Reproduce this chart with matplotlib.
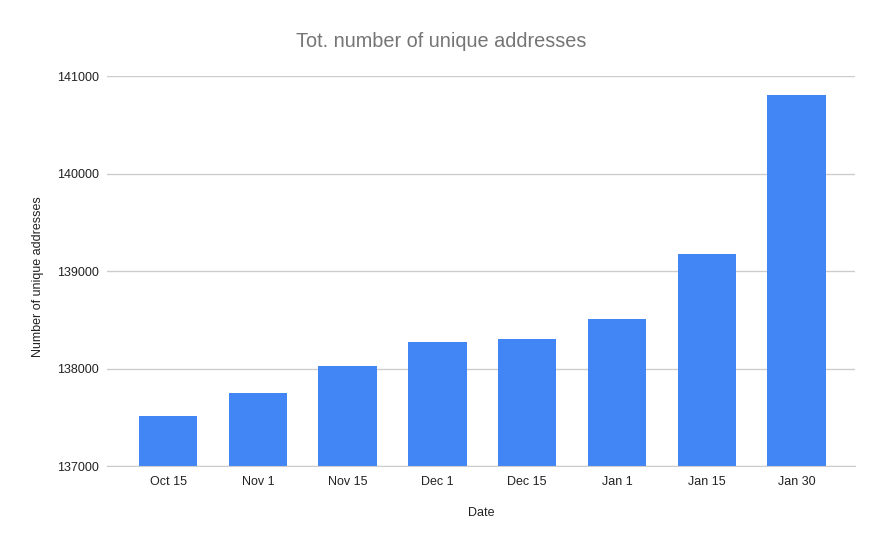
import matplotlib
matplotlib.use("Agg")
import matplotlib.pyplot as plt

# dados
datas = ["Oct 15", "Nov 1", "Nov 15", "Dec 1", "Dec 15", "Jan 1", "Jan 15", "Jan 30"]
enderecos = [137515, 137751, 138027, 138273, 138304, 138509, 139174, 140802]
yticks = [137000, 138000, 139000, 140000, 141000]

plt.rcParams["font.family"] = ["Liberation Sans", "DejaVu Sans"]

fig = plt.figure(figsize=(8.82, 5.46), dpi=100)
ax = fig.add_axes([0.1213, 0.1465, 0.8481, 0.7143])

x = range(len(datas))
ax.bar(x, enderecos, width=0.65, color="#4285F4", zorder=2)

ax.set_ylim(137000, 141000)
ax.set_xlim(-0.68, 7.65)
ax.set_yticks(yticks)
ax.set_yticklabels([str(v) for v in yticks])
ax.set_xticks(list(x))
ax.set_xticklabels(datas)
ax.yaxis.grid(True, color="#cccccc", lw=1, zorder=0)
ax.tick_params(axis="both", length=0, labelsize=9, colors="#222222")
ax.tick_params(axis="y", pad=6)
ax.tick_params(axis="x", pad=7)
for s in ["top", "right", "left"]:
    ax.spines[s].set_visible(False)
ax.spines["bottom"].set_color("#cccccc")

ax.set_xlabel("Date", fontsize=9, color="#222222", labelpad=14)
ax.set_ylabel("Number of unique addresses", fontsize=9, color="#222222")
ax.yaxis.set_label_coords(-0.084, 0.485)
fig.text(0.5, 0.924, "Tot. number of unique addresses", ha="center", va="center",
         fontsize=14.3, color="#757575")

fig.savefig("out.png", dpi=100)
